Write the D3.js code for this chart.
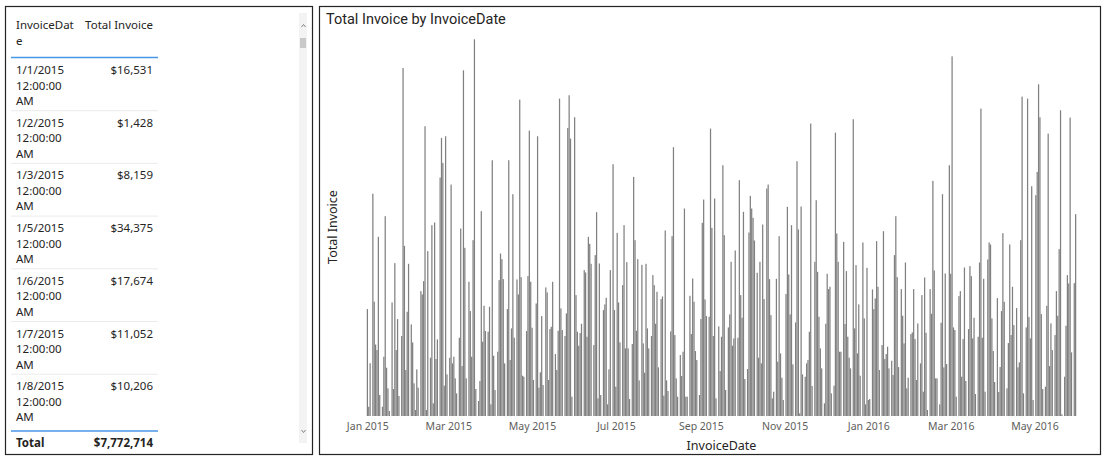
<!DOCTYPE html>
<html>
<head>
  <meta charset="utf-8">
  <title>Total Invoice by InvoiceDate</title>
  <script src="https://d3js.org/d3.v7.min.js"></script>
  <style>
    body { margin: 0; background: #fff; }
    svg text { font-family: "Segoe UI", "Noto Sans", sans-serif; fill: #252423; }
  </style>
</head>
<body>
<svg id="page"></svg>
<script>
  // one value per day starting 2015-01-01 (a Thursday), null = no invoices (Sundays)
  var startDate = "2015-01-01";
  var dailyInvoice = [
    16531, 1428, 8159, null, 34375, 17674, 11052,
    10206, 27707, 3245, null, 1442, 9167, 30900,
    7468, 4275, 773, null, 17562, 4172, 23639,
    10197, 14987, 3090, null, 12360, 53818, 26317,
    7107, 16120, 23536, null, 14163, 11382, 5047,
    927, 7210, 4378, null, 19313, 18798, 20858,
    44805, 927, 25493, null, 9013, 29510, 1957,
    29922, 8807, 11845, null, 36874, 43003, 39140,
    4687, 43260, 6438, null, 9013, 35793, 8137,
    9167, 5820, 3502, null, 12103, 28995, 7725,
    53457, 26008, 5820, null, 20755, 16223, 9167,
    27192, 58247, 4172, null, 2318, 5408, 31673,
    11485, 17047, 13133, null, 13030, 16892, 1803,
    39552, 9322, 4017, null, 9940, 21012, 25132,
    24257, 21167, 8137, null, 16532, 39552, 8652,
    13545, 34299, 12103, null, 21115, 18798, 48925,
    21476, 6232, 6077, null, 13133, 21630, 44136,
    20755, 13648, 5562, null, 17407, 43260, 4378,
    6747, 15450, 4790, null, 19879, 19107, 5562,
    13442, 13802, 20755, null, 9579, 7107, 13184,
    49080, 16635, 13287, null, 12360, 15862, 44548,
    49595, 42900, 2987, null, 46196, 18695, 13030,
    10867, 12824, 14266, null, 22557, 22197, 12257,
    27707, 26626, 23536, null, 10970, 24875, 31518,
    2730, 23587, 3245, null, 16377, 17253, 18283,
    1803, 7210, 22557, null, 38934, 16377, 4532,
    28325, 17562, 11382, null, 20240, 29510, 10455,
    23793, 10455, 2627, null, 11124, 36977, 27192,
    13184, 24257, 5511, null, 23381, 11227, 6695,
    23536, 13545, 10455, null, 12360, 21785, 20240,
    14266, 19210, 7519, null, 18077, 18489, 3142,
    28686, 5511, 3863, null, 13081, 27810, 41561,
    12515, 5820, 2987, null, 9425, 6180, 9940,
    32085, 2987, 2987, null, 18592, 12669, 21270,
    17665, 10043, 8652, null, 3245, 14987, 29870,
    33475, 18025, 15450, null, 15347, 44445, 29098,
    12360, 33630, 2730, null, 13854, 6953, 12257,
    38780, 27965, 4017, null, 13699, 15708, 23845,
    10867, 12000, 25596, null, 12103, 36462, 18695,
    15193, 31570, 5717, null, 7262, 28377, 34042,
    32085, 30643, 27141, null, 22145, 9013, 23845,
    8137, 29613, 18077, null, 35175, 35793, 21167,
    15605, 2730, 3760, null, 21218, 8395, 27810,
    9682, 5923, 2472, null, 18849, 32342, 21888,
    15708, 29510, 7983, null, 14472, 39398, 28840,
    412, 32394, 6438, null, 6077, 8137, 8652,
    13030, 45217, 4635, null, 23845, 33372, 22300,
    15347, 10455, 7365, null, 1957, 14266, 21991,
    19622, 19982, 3502, null, 4687, 43827, 28222,
    23845, 9940, 9940, null, 26935, 14214, 22403,
    12257, 9013, 7365, null, 45887, 13545, 23330,
    9682, 17253, 6232, null, 26832, 15090, 1803,
    22918, 2472, 2627, null, 19570, 16532, 18180,
    27038, 19982, 7107, null, 10970, 28583, 8807,
    9579, 10712, 7365, null, 8549, 6335, 24875,
    30900, 21476, 7571, null, 19622, 15502, 11227,
    23742, 4275, 5923, null, 12669, 12927, 19622,
    11897, 5562, 14317, null, 8137, 18695, 3760,
    21424, 12875, 927, null, 19622, 15811, 36359,
    22506, 5820, 5820, null, 1803, 14420, 34299,
    7519, 22042, 8034, null, 38780, 21991, 55620,
    13699, 13287, 2987, null, 18540, 19313, 6077,
    11897, 22969, 5408, null, 13442, 23175, 21630,
    12000, 15193, 3399, null, 12257, 23742, 47535,
    12103, 21218, 3760, null, 24205, 26832, 26523,
    15090, 10043, 5253, null, 18231, 3708, 7571,
    16223, 28274, 17665, null, 4275, 11279, 26523,
    12515, 19982, 14060, null, 16686, 7519, 8292,
    27192, 49389, 3502, null, 13699, 49080, 15296,
    12000, 35535, 2472, null, 34145, 37750, 51294,
    46196, 15759, 4172, null, 4532, 17047, 43672,
    7725, 14317, 10197, null, 12515, 19313, 15502,
    25802, 47277, 258, null, 6077, 13957, 21785,
    20497, 46144, 9837, null, 20549, 31209
  ];

  var tickMonths = ["2015-01-01", "2015-03-01", "2015-05-01", "2015-07-01", "2015-09-01",
                    "2015-11-01", "2016-01-01", "2016-03-01", "2016-05-01"];

  // rows visible in the table
  var tableDates = ["1/1/2015", "1/2/2015", "1/3/2015", "1/5/2015", "1/6/2015", "1/7/2015", "1/8/2015"];
  var tableTotals = [16531, 1428, 8159, 34375, 17674, 11052, 10206];
  var grandTotal = 7772714;

  var width = 1110, height = 460;
  var svg = d3.select("#page").attr("width", width).attr("height", height);
  var money = d3.format("$,.0f");

  // ---------- table visual ----------
  var tbl = svg.append("g");
  tbl.append("rect")
    .attr("x", 5.5).attr("y", 6.5).attr("width", 307).attr("height", 448)
    .attr("fill", "#fff").attr("stroke", "#252423").attr("stroke-width", 1.2);

  tbl.append("clipPath").attr("id", "rows-clip")
    .append("rect").attr("x", 6).attr("y", 58).attr("width", 290).attr("height", 372);

  tbl.append("text").attr("x", 16).attr("y", 29).style("font-size", "11.5px").text("InvoiceDat");
  tbl.append("text").attr("x", 16).attr("y", 45).style("font-size", "11.5px").text("e");
  tbl.append("text").attr("x", 153).attr("y", 29).attr("text-anchor", "end")
    .style("font-size", "11.5px").text("Total Invoice");

  tbl.append("line").attr("x1", 11).attr("x2", 158).attr("y1", 57.5).attr("y2", 57.5)
    .attr("stroke", "#4a96e6").attr("stroke-width", 1.5);

  var rows = tbl.append("g").attr("clip-path", "url(#rows-clip)");
  var rowH = 52.7;

  rows.selectAll(".sep")
    .data(tableDates.slice(1))
    .enter()
    .append("line")
    .attr("class", "sep")
    .attr("x1", 11).attr("x2", 158)
    .attr("y1", (d, i) => 110.7 + i * rowH)
    .attr("y2", (d, i) => 110.7 + i * rowH)
    .attr("stroke", "#ebebeb");

  var row = rows.selectAll(".row")
    .data(tableDates)
    .enter()
    .append("g")
    .attr("class", "row")
    .attr("transform", (d, i) => "translate(0," + (74 + i * rowH) + ")");

  row.append("text").attr("x", 16).style("font-size", "11.5px").text(d => d);
  row.append("text").attr("x", 16).attr("y", 15.5).style("font-size", "11.5px").text("12:00:00");
  row.append("text").attr("x", 16).attr("y", 31).style("font-size", "11.5px").text("AM");
  row.append("text").attr("x", 153).attr("text-anchor", "end").style("font-size", "11.5px")
    .text((d, i) => money(tableTotals[i]));

  tbl.append("line").attr("x1", 11).attr("x2", 158).attr("y1", 431).attr("y2", 431)
    .attr("stroke", "#4a96e6").attr("stroke-width", 1.5);
  tbl.append("text").attr("x", 16).attr("y", 447)
    .style("font-size", "11.5px").style("font-weight", "bold").text("Total");
  tbl.append("text").attr("x", 153).attr("y", 447).attr("text-anchor", "end")
    .style("font-size", "11.5px").style("font-weight", "bold").text(money(grandTotal));

  // scrollbar
  tbl.append("rect").attr("x", 299).attr("y", 13).attr("width", 8).attr("height", 430).attr("fill", "#f3f3f3");
  tbl.append("rect").attr("x", 300).attr("y", 38).attr("width", 6).attr("height", 10).attr("fill", "#c8c8c8");
  tbl.append("path").attr("d", "M301.5,27 L303.5,24.5 L305.5,27")
    .attr("fill", "none").attr("stroke", "#777").attr("stroke-width", 0.9);
  tbl.append("path").attr("d", "M301.5,430 L303.5,432.5 L305.5,430")
    .attr("fill", "none").attr("stroke", "#777").attr("stroke-width", 0.9);

  // ---------- column chart visual ----------
  var chart = svg.append("g");
  chart.append("rect")
    .attr("x", 319.5).attr("y", 6.5).attr("width", 781).attr("height", 448)
    .attr("fill", "#fff").attr("stroke", "#252423").attr("stroke-width", 1.2);

  chart.append("text")
    .attr("x", 326).attr("y", 24)
    .style("font-family", "Roboto, 'DejaVu Sans', sans-serif")
    .style("font-size", "14.5px")
    .text("Total Invoice by InvoiceDate");

  var t0 = d3.utcParse("%Y-%m-%d")(startDate);
  var data = dailyInvoice
    .map((v, i) => ({ date: d3.utcDay.offset(t0, i), value: v }))
    .filter(d => d.value != null);

  var xScale = d3.scaleUtc()
    .domain([d3.utcDay.offset(t0, -1), d3.utcDay.offset(t0, dailyInvoice.length)])
    .range([366, 1077]);

  var yScale = d3.scaleLinear()
    .domain([0, 60000])
    .range([416, 28]);

  chart.selectAll(".bar")
    .data(data)
    .enter()
    .append("rect")
    .attr("class", "bar")
    .attr("x", d => xScale(d.date) - 0.62)
    .attr("width", 1.24)
    .attr("y", d => yScale(d.value))
    .attr("height", d => yScale(0) - yScale(d.value))
    .attr("fill", "#808080");

  var xAxis = chart.append("g")
    .attr("transform", "translate(0," + yScale(0) + ")")
    .call(d3.axisBottom(xScale)
      .tickValues(tickMonths.map(d3.utcParse("%Y-%m-%d")))
      .tickFormat(d3.utcFormat("%b %Y"))
      .tickSize(0)
      .tickPadding(7));
  xAxis.select(".domain").remove();
  xAxis.selectAll("text")
    .style("font-family", "'Segoe UI', 'Noto Sans', sans-serif")
    .style("font-size", "10.5px")
    .style("fill", "#605e5c");

  chart.append("text")
    .attr("x", (366 + 1077) / 2)
    .attr("y", 450)
    .attr("text-anchor", "middle")
    .style("font-size", "12.5px")
    .text("InvoiceDate");

  chart.append("text")
    .attr("transform", "translate(337," + ((416 + 28) / 2 + 5) + ") rotate(-90)")
    .attr("text-anchor", "middle")
    .style("font-size", "12.5px")
    .text("Total Invoice");
</script>
</body>
</html>
